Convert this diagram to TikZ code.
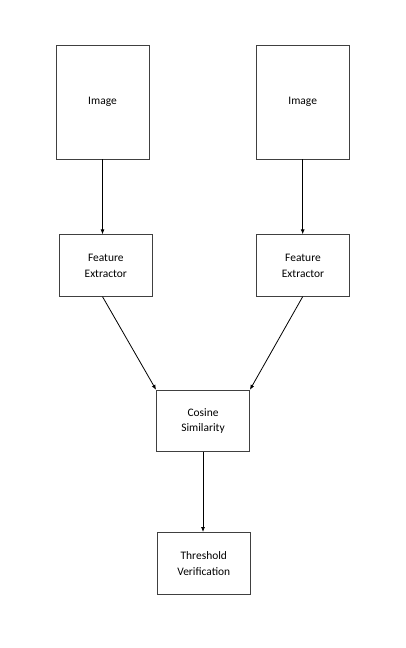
\documentclass[tikz,border=0pt]{standalone}
\usepackage{fontspec}
\setmainfont{Carlito}
\usetikzlibrary{arrows.meta}
\begin{document}
\begin{tikzpicture}[x=1bp,y=-1bp,
    box/.style={draw=black!75,line width=.8bp,minimum width=93bp,align=center,
      font=\fontsize{11.5}{16}\selectfont,inner sep=0pt},
    imgbox/.style={box,minimum height=114bp},
    stagebox/.style={box,minimum height=61.5bp},
    flow/.style={-{Latex[length=5bp,width=4bp]},line width=.8bp}]
  \useasboundingbox (0,0) rectangle (405,648);
  \node[imgbox] (imageL) at (102.5,102) {Image};
  \node[imgbox] (imageR) at (302.7,102) {Image};
  \node[stagebox] (featureL) at (105.8,265.5) {Feature\\Extractor};
  \node[stagebox] (featureR) at (303,265.5) {Feature\\Extractor};
  \node[stagebox] (cosine) at (203,421) {Cosine\\Similarity};
  \node[stagebox] (threshold) at (203.8,563.2) {Threshold\\Verification};
  \draw[flow] (imageL.south) -- (imageL.south |- featureL.north);
  \draw[flow] (imageR.south) -- (imageR.south |- featureR.north);
  \draw[flow] (imageL.south |- featureL.south) -- (cosine.north west);
  \draw[flow] (imageR.south |- featureR.south) -- (cosine.north east);
  \draw[flow] (cosine.south) -- (cosine.south |- threshold.north);
\end{tikzpicture}
\end{document}
